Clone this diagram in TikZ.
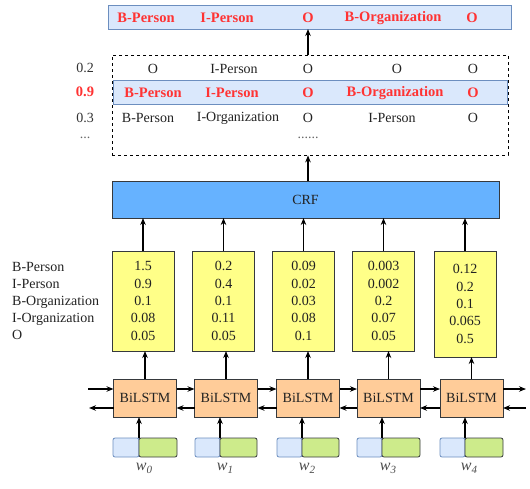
\documentclass[tikz,border=0pt]{standalone}
\usepackage{fontspec}
\setmainfont{Liberation Serif}
\usetikzlibrary{arrows.meta}
\definecolor{lblue}{HTML}{DAE8FC}
\definecolor{bdraw}{HTML}{6C8EBF}
\definecolor{tred}{HTML}{FF3333}
\definecolor{crfc}{HTML}{66B2FF}
\definecolor{gdraw}{HTML}{36393D}
\definecolor{yel}{HTML}{FFFF88}
\definecolor{ora}{HTML}{FFCC99}
\definecolor{grn}{HTML}{CDEB8B}
\definecolor{txt}{HTML}{222222}
\begin{document}
\begin{tikzpicture}[x=1pt,y=-1pt,
  font=\rmfamily\fontsize{14}{17}\selectfont, text=txt,
  arr/.style={draw=black, line width=1.1pt, -{Stealth[length=7pt,width=5.5pt]}},
  bx/.style={draw=gdraw, line width=0.8pt, inner sep=0pt, outer sep=0pt},
  hlbox/.style={bx, draw=bdraw, fill=lblue},
  rtxt/.style={text=tred, font=\rmfamily\bfseries\fontsize{14.5}{17}\selectfont, inner sep=0pt},
  ntxt/.style={inner sep=0pt},
  yelbox/.style={bx, fill=yel, minimum width=62pt, align=center, font=\rmfamily\fontsize{14}{17.3}\selectfont},
  lstm/.style={bx, fill=ora, minimum width=63pt, minimum height=38pt},
  embb/.style={bx, draw=bdraw, fill=lblue, minimum height=19pt, rounded corners=2pt},
  embg/.style={bx, fill=grn, minimum height=19pt, rounded corners=2pt},
  wlab/.style={inner sep=0pt, text=black!70, font=\rmfamily\itshape\fontsize{16}{16}\selectfont}
]
\useasboundingbox (0,0) rectangle (530,488);

% top result box
\node[hlbox, minimum width=403pt, minimum height=24pt] (top) at (309.5,17) {};
\node[rtxt] (t1) at (146,18) {B-Person};
\node[rtxt] (t2) at (227,18) {I-Person};
\node[rtxt] (t3) at (308,18) {O};
\node[rtxt] (t4) at (393,18) {B-Organization};
\node[rtxt] (t5) at (472,18) {O};

% dashed candidate box
\node[draw=black, line width=0.8pt, dash pattern=on 3pt off 3pt, minimum width=396pt, minimum height=100pt, inner sep=0pt] (dash) at (310,105) {};
\node[hlbox, minimum width=394pt, minimum height=24pt] (hl) at (310,92) {};

\coordinate (c1) at (308,0);
\draw[arr] (dash.north -| c1) -- (top.south -| c1);

% row 1
\node[ntxt] (r11) at (153,69) {O};
\node[ntxt] (r12) at (234,69) {I-Person};
\node[ntxt] (r13) at (308,69) {O};
\node[ntxt] (r14) at (397,69) {O};
\node[ntxt] (r15) at (473,69) {O};
% row 2
\node[rtxt] (r21) at (153,93) {B-Person};
\node[rtxt] (r22) at (232,93) {I-Person};
\node[rtxt] (r23) at (308,93) {O};
\node[rtxt] (r24) at (395,93) {B-Organization};
\node[rtxt] (r25) at (473,93) {O};
% row 3
\node[ntxt] (r31) at (148,118) {B-Person};
\node[ntxt] (r32) at (238,118) {I-Organization};
\node[ntxt] (r33) at (308,118) {O};
\node[ntxt] (r34) at (392,118) {I-Person};
\node[ntxt] (r35) at (473,118) {O};
\node[ntxt, text=black!60] (r43) at (308,138) {......};

% scores
\node[ntxt, text=black!80] (s1) at (85,68) {0.2};
\node[rtxt] (s2) at (85,92) {0.9};
\node[ntxt, text=black!80] (s3) at (85,118) {0.3};
\node[ntxt, text=black!60] (s4) at (85,138) {...};

% CRF
\node[bx, fill=crfc, minimum width=387pt, minimum height=37pt] (crf) at (305.5,199.5) {CRF};
\draw[arr] (crf.north -| c1) -- (dash.south -| c1);

% emission boxes
\node[yelbox, minimum height=100pt] (y0) at (143,301) {1.5\\0.9\\0.1\\0.08\\0.05};
\node[yelbox, minimum height=100pt] (y1) at (223.5,301) {0.2\\0.4\\0.1\\0.11\\0.05};
\node[yelbox, minimum height=100pt] (y2) at (303.5,301) {0.09\\0.02\\0.03\\0.08\\0.1};
\node[yelbox, minimum height=100pt] (y3) at (383.5,301) {0.003\\0.002\\0.2\\0.07\\0.05};
\node[yelbox, minimum height=106pt] (y4) at (465,304) {0.12\\0.2\\0.1\\0.065\\0.5};

\node[ntxt, anchor=west, align=left, font=\rmfamily\fontsize{14}{17.2}\selectfont] (lab) at (12,301) {B-Person\\I-Person\\B-Organization\\I-Organization\\O};

\foreach \i in {0,...,4}{
  \draw[arr] (y\i.north) -- (y\i.north |- crf.south);
}

% BiLSTM
\node[lstm] (l0) at (145,398) {BiLSTM};
\node[lstm] (l1) at (226,398) {BiLSTM};
\node[lstm] (l2) at (308,398) {BiLSTM};
\node[lstm] (l3) at (388.5,398) {BiLSTM};
\node[lstm] (l4) at (471.5,398) {BiLSTM};

\foreach \i in {0,...,4}{
  \draw[arr] (l\i.north) -- (l\i.north |- y\i.south);
}
\foreach \i/\j in {0/1,1/2,2/3,3/4}{
  \draw[arr] ([yshift=9pt]l\i.east) -- ([yshift=9pt]l\j.west);
  \draw[arr] ([yshift=-10pt]l\j.west) -- ([yshift=-10pt]l\i.east);
}
\coordinate (inL) at (88,389);
\coordinate (outL) at (89,408);
\coordinate (outR) at (526,389);
\coordinate (inR) at (526,408);
\draw[arr] (inL) -- (inL -| l0.west);
\draw[arr] (outL -| l0.west) -- (outL);
\draw[arr] (outR -| l4.east) -- (outR);
\draw[arr] (inR) -- (inR -| l4.east);

% embeddings
\foreach \i/\a/\b/\c in {0/113/139/177,1/195/220/257,2/277/302/339,3/357/382/420,4/440/465/503}{
  \node[embb, minimum width={\b-\a}] (eb\i) at ({(\a+\b)/2},447.5) {};
  \node[embg, minimum width={\c-\b}] (eg\i) at ({(\b+\c)/2},447.5) {};
  \draw[arr] (eb\i.north east) -- (eb\i.north east |- l\i.south);
}

% word labels
\node[wlab] (w0) at (144,468) {w\raisebox{-3pt}{\fontsize{11}{11}\selectfont 0}};
\node[wlab] (w1) at (225,468) {w\raisebox{-3pt}{\fontsize{11}{11}\selectfont 1}};
\node[wlab] (w2) at (307,468) {w\raisebox{-3pt}{\fontsize{11}{11}\selectfont 2}};
\node[wlab] (w3) at (388,468) {w\raisebox{-3pt}{\fontsize{11}{11}\selectfont 3}};
\node[wlab] (w4) at (469,468) {w\raisebox{-3pt}{\fontsize{11}{11}\selectfont 4}};
\end{tikzpicture}
\end{document}
